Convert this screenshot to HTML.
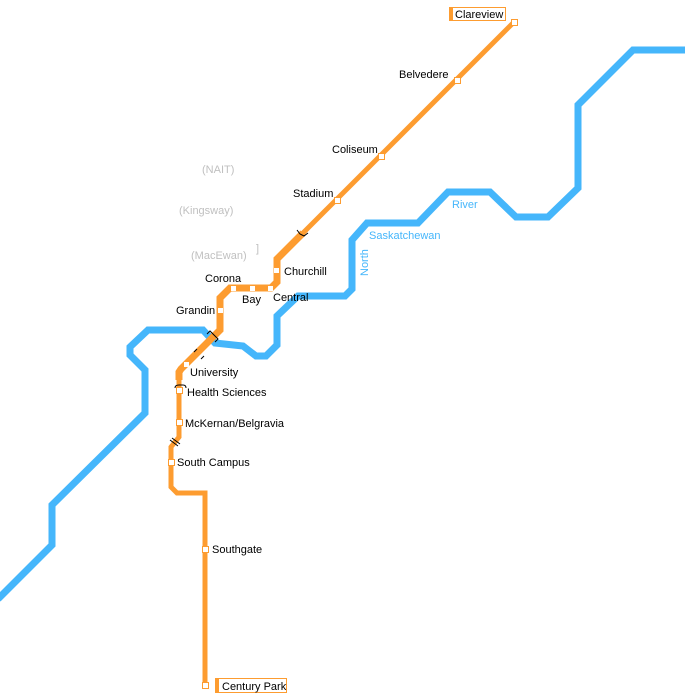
<!DOCTYPE html>
<html><head><meta charset="utf-8"><style>
html,body{margin:0;padding:0;background:#fff;}
svg{display:block;}
text{font-family:"Liberation Sans",sans-serif;font-size:11px;}
</style></head><body>
<svg width="685" height="699" viewBox="0 0 685 699" xmlns="http://www.w3.org/2000/svg">
<g fill="none" stroke="#45b6fb" stroke-width="7" stroke-linejoin="miter">
<polyline points="-2,599 52,545 52,505 145,413 145,370 130,355 130,347 148,330 203,330 215,343 243,346 256,356 266,356 277,345 277,316 298,296 345,296 352,289 352,240 367,223 418,223 448,192 490,192 516,217 548,217 578,188 578,105 633,50 690,50"/>
</g>
<g fill="none" stroke="#fd9c30" stroke-linejoin="miter">
<polyline stroke-width="5" points="514,22 302,234"/>
<polyline stroke-width="7" points="303,233 277,259 277,282 271,288 230,288 220,298 220,330 181,369 179,372 179,380"/>
<polyline stroke-width="5" points="179,378 179,437 171,447 171,487 177,493 205,493 205,686"/>
</g>
<g fill="none" stroke="#000" stroke-width="1">
<path d="M297,230 l3,4 l4,2 l4,-3"/>
<path d="M207,334 l3,-3 l8,8 l-3,3"/>
<path d="M194,352 l3,-3 M201,359 l3,-3"/>
<path d="M175,388 q0,-3 4,-3 l4,0 q3,0 3,3"/>
<path d="M170,440 l8,6 M172,438 l8,6"/>
</g>
<g fill="#fff" stroke="#fd9c30" stroke-width="1">
<rect x="511.5" y="19.5" width="6" height="6"/>
<rect x="454.5" y="77.5" width="6" height="6"/>
<rect x="378.5" y="153.5" width="6" height="6"/>
<rect x="334.5" y="197.5" width="6" height="6"/>
<rect x="202.5" y="546.5" width="6" height="6"/>
<rect x="202.5" y="682.5" width="6" height="6"/>
<rect x="176.5" y="387.5" width="6" height="6"/>
<rect x="176.5" y="419.5" width="6" height="6"/>
<rect x="168.5" y="459.5" width="6" height="6"/>
</g>
<g fill="#fff">
<rect x="274" y="268" width="5" height="5"/>
<rect x="231" y="286" width="5" height="5"/>
<rect x="250" y="286" width="5" height="5"/>
<rect x="268" y="286" width="5" height="5"/>
<rect x="218" y="308" width="5" height="5"/>
<rect x="184" y="362" width="5" height="5"/>
</g>
<rect x="449.5" y="7.5" width="56" height="13" fill="#fff" stroke="#fd9c30"/>
<rect x="449" y="7" width="4" height="14" fill="#fd9c30"/>
<text x="455" y="18">Clareview</text>
<rect x="215.5" y="678.5" width="71" height="14" fill="#fff" stroke="#fd9c30"/>
<rect x="215" y="678" width="4" height="15" fill="#fd9c30"/>
<text x="222" y="690">Century Park</text>
<text x="399" y="78">Belvedere</text>
<text x="332" y="153">Coliseum</text>
<text x="293" y="197">Stadium</text>
<text x="284" y="275">Churchill</text>
<text x="205" y="282">Corona</text>
<text x="242" y="303">Bay</text>
<text x="273" y="301">Central</text>
<text x="176" y="314">Grandin</text>
<text x="190" y="376">University</text>
<text x="187" y="396">Health Sciences</text>
<text x="185" y="427">McKernan/Belgravia</text>
<text x="177" y="466">South Campus</text>
<text x="212" y="553">Southgate</text>
<g fill="#c0c0c0">
<text x="202" y="173">(NAIT)</text>
<text x="179" y="214">(Kingsway)</text>
<text x="191" y="259">(MacEwan)</text>
<text x="256" y="252">]</text>
</g>
<g fill="#45b6fb">
<text x="452" y="208">River</text>
<text x="369" y="239">Saskatchewan</text>
<text transform="translate(368,276) rotate(-90)">North</text>
</g>
</svg>
</body></html>
